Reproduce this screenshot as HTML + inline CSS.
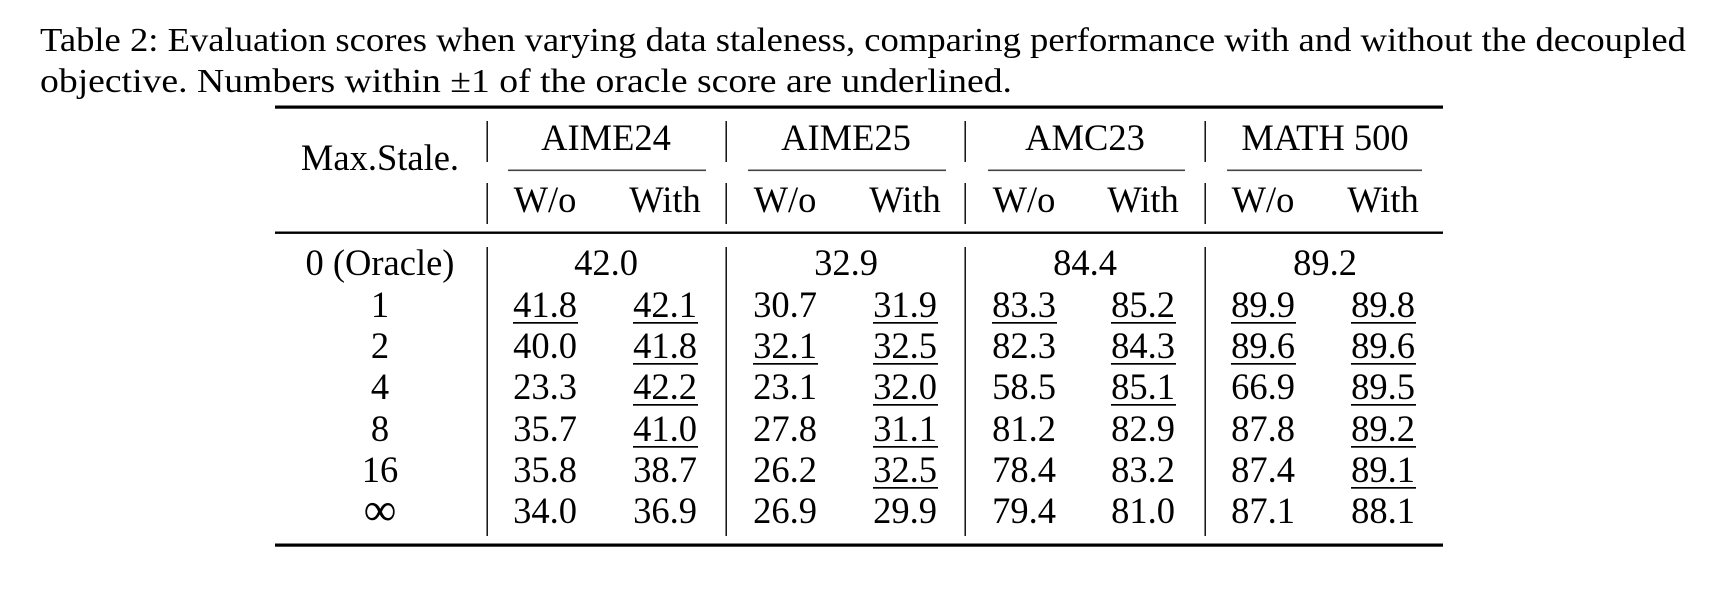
<!DOCTYPE html>
<html><head><meta charset="utf-8"><style>
html,body{margin:0;padding:0;background:#fff;}
svg{display:block;}
text{font-family:"Liberation Serif",serif;font-size:36.5px;fill:#000;}
.c{font-size:34px;}
</style></head><body>
<svg width="1733" height="595" viewBox="0 0 1733 595" xmlns="http://www.w3.org/2000/svg">
<text class="c" x="40" y="51" textLength="1646" lengthAdjust="spacingAndGlyphs">Table 2: Evaluation scores when varying data staleness, comparing performance with and without the decoupled</text>
<text class="c" x="40" y="92" textLength="972" lengthAdjust="spacingAndGlyphs">objective. Numbers within ±1 of the oracle score are underlined.</text>
<rect x="275" y="105.5" width="1168" height="3.2" fill="#000"/>
<rect x="275" y="231.5" width="1168" height="2.4" fill="#000"/>
<rect x="275" y="543.5" width="1168" height="3.2" fill="#000"/>
<g fill="#444">
<rect x="508" y="169.5" width="198" height="1.6"/>
<rect x="748" y="169.5" width="198" height="1.6"/>
<rect x="988" y="169.5" width="197" height="1.6"/>
<rect x="1227" y="169.5" width="195" height="1.6"/>
</g>
<g fill="#000">
<rect x="486.5" y="121" width="1.4" height="41"/><rect x="725.5" y="121" width="1.4" height="41"/><rect x="964.5" y="121" width="1.4" height="41"/><rect x="1204.5" y="121" width="1.4" height="41"/>
<rect x="486.5" y="183" width="1.4" height="41"/><rect x="725.5" y="183" width="1.4" height="41"/><rect x="964.5" y="183" width="1.4" height="41"/><rect x="1204.5" y="183" width="1.4" height="41"/>
<rect x="486.5" y="247" width="1.4" height="289"/><rect x="725.5" y="247" width="1.4" height="289"/><rect x="964.5" y="247" width="1.4" height="289"/><rect x="1204.5" y="247" width="1.4" height="289"/>
</g>
<g text-anchor="middle">
<text x="380" y="170">Max.Stale.</text>
<text x="606" y="150">AIME24</text>
<text x="846" y="150">AIME25</text>
<text x="1085" y="150">AMC23</text>
<text x="1325" y="150">MATH 500</text>
<text x="545" y="212">W/o</text><text x="665" y="212">With</text>
<text x="785" y="212">W/o</text><text x="905" y="212">With</text>
<text x="1024" y="212">W/o</text><text x="1143" y="212">With</text>
<text x="1263" y="212">W/o</text><text x="1383" y="212">With</text>
<text x="380" y="275">0 (Oracle)</text>
<text x="606" y="275">42.0</text><text x="846" y="275">32.9</text><text x="1085" y="275">84.4</text><text x="1325" y="275">89.2</text>

<text x="380" y="317">1</text>
<text x="545" y="317">41.8</text><text x="665" y="317">42.1</text><text x="785" y="317">30.7</text><text x="905" y="317">31.9</text><text x="1024" y="317">83.3</text><text x="1143" y="317">85.2</text><text x="1263" y="317">89.9</text><text x="1383" y="317">89.8</text>

<text x="380" y="358">2</text>
<text x="545" y="358">40.0</text><text x="665" y="358">41.8</text><text x="785" y="358">32.1</text><text x="905" y="358">32.5</text><text x="1024" y="358">82.3</text><text x="1143" y="358">84.3</text><text x="1263" y="358">89.6</text><text x="1383" y="358">89.6</text>

<text x="380" y="399">4</text>
<text x="545" y="399">23.3</text><text x="665" y="399">42.2</text><text x="785" y="399">23.1</text><text x="905" y="399">32.0</text><text x="1024" y="399">58.5</text><text x="1143" y="399">85.1</text><text x="1263" y="399">66.9</text><text x="1383" y="399">89.5</text>

<text x="380" y="441">8</text>
<text x="545" y="441">35.7</text><text x="665" y="441">41.0</text><text x="785" y="441">27.8</text><text x="905" y="441">31.1</text><text x="1024" y="441">81.2</text><text x="1143" y="441">82.9</text><text x="1263" y="441">87.8</text><text x="1383" y="441">89.2</text>

<text x="380" y="482">16</text>
<text x="545" y="482">35.8</text><text x="665" y="482">38.7</text><text x="785" y="482">26.2</text><text x="905" y="482">32.5</text><text x="1024" y="482">78.4</text><text x="1143" y="482">83.2</text><text x="1263" y="482">87.4</text><text x="1383" y="482">89.1</text>

<text x="380" y="525" style="font-size:46px">∞</text>
<text x="545" y="523">34.0</text><text x="665" y="523">36.9</text><text x="785" y="523">26.9</text><text x="905" y="523">29.9</text><text x="1024" y="523">79.4</text><text x="1143" y="523">81.0</text><text x="1263" y="523">87.1</text><text x="1383" y="523">88.1</text>
</g>
<g fill="#000">
<rect x="513" y="322" width="65" height="1.7"/><rect x="633" y="322" width="65" height="1.7"/><rect x="873" y="322" width="65" height="1.7"/><rect x="992" y="322" width="65" height="1.7"/><rect x="1111" y="322" width="65" height="1.7"/><rect x="1231" y="322" width="65" height="1.7"/><rect x="1351" y="322" width="65" height="1.7"/>
<rect x="633" y="363" width="65" height="1.7"/><rect x="753" y="363" width="65" height="1.7"/><rect x="873" y="363" width="65" height="1.7"/><rect x="1111" y="363" width="65" height="1.7"/><rect x="1231" y="363" width="65" height="1.7"/><rect x="1351" y="363" width="65" height="1.7"/>
<rect x="633" y="404" width="65" height="1.7"/><rect x="873" y="404" width="65" height="1.7"/><rect x="1111" y="404" width="65" height="1.7"/><rect x="1351" y="404" width="65" height="1.7"/>
<rect x="633" y="446" width="65" height="1.7"/><rect x="873" y="446" width="65" height="1.7"/><rect x="1351" y="446" width="65" height="1.7"/>
<rect x="873" y="487" width="65" height="1.7"/><rect x="1351" y="487" width="65" height="1.7"/>
</g>
</svg>
</body></html>
